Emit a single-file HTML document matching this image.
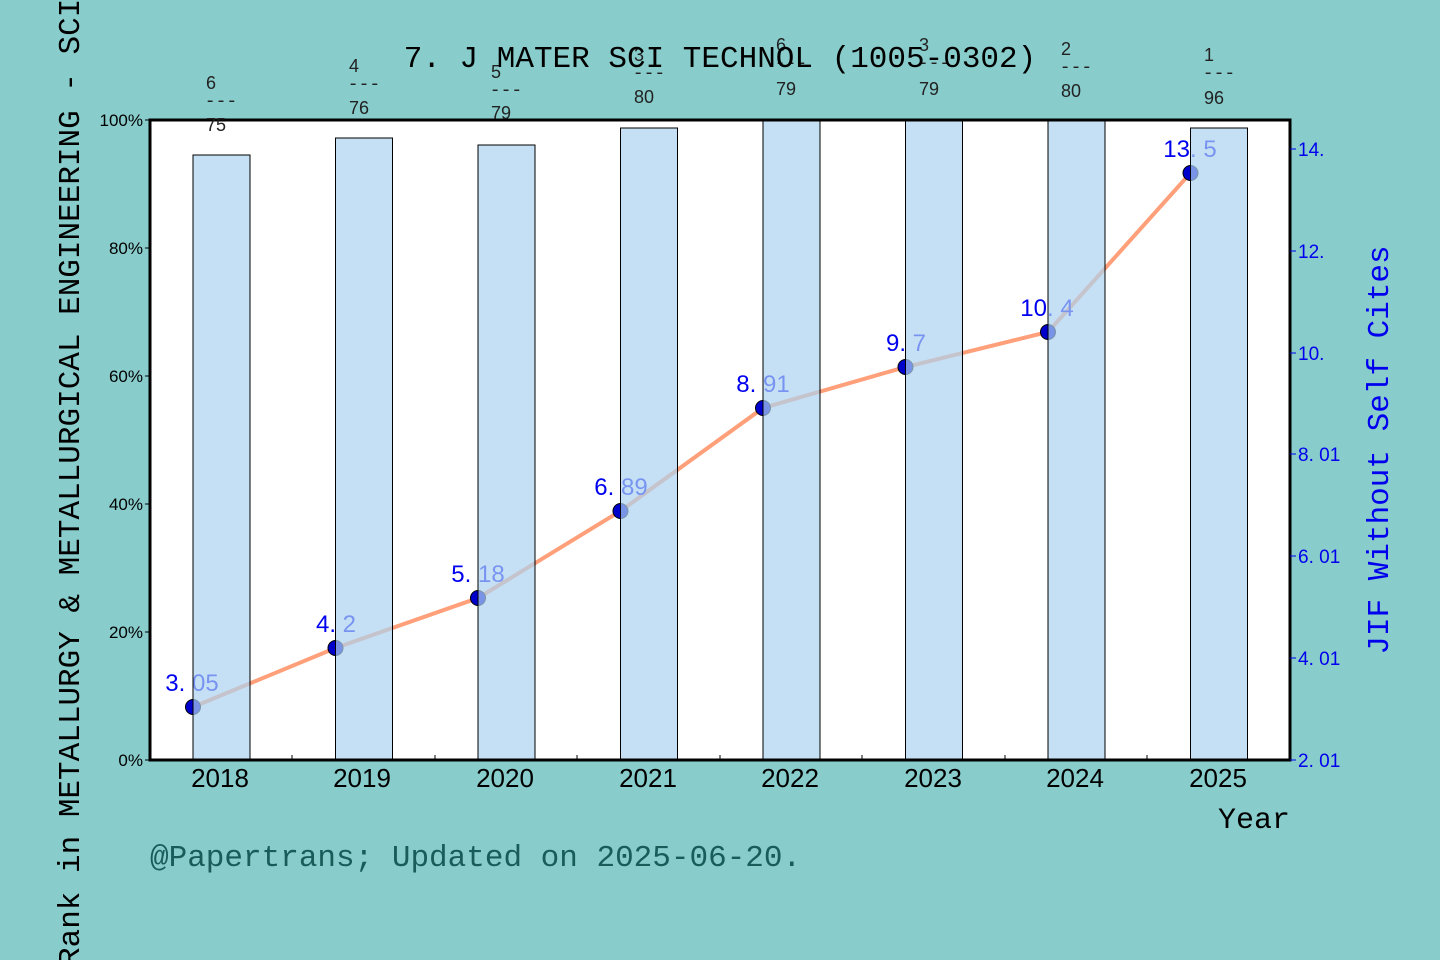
<!DOCTYPE html>
<html><head><meta charset="utf-8"><style>
html,body{margin:0;padding:0;background:#88cccb;}
svg{display:block}
</style></head><body>
<svg width="1440" height="960" xmlns="http://www.w3.org/2000/svg">
<rect x="0" y="0" width="1440" height="960" fill="#88cccb"/>
<rect x="150" y="120" width="1140" height="640" fill="#fff"/>
<polyline fill="none" stroke="#ffa07a" stroke-width="4" points="193,707 335.5,648 478,598 620.5,511 763,408 905.5,367 1048,332 1190.5,173"/>
<g fill="#0000cc" stroke="#000" stroke-width="1">
<circle cx="193" cy="707" r="7.5"/><circle cx="335.5" cy="648" r="7.5"/><circle cx="478" cy="598" r="7.5"/><circle cx="620.5" cy="511" r="7.5"/><circle cx="763" cy="408" r="7.5"/><circle cx="905.5" cy="367" r="7.5"/><circle cx="1048" cy="332" r="7.5"/><circle cx="1190.5" cy="173" r="7.5"/>
</g>
<g font-family="Liberation Sans, sans-serif" font-size="24" fill="#0000ee" text-anchor="middle">
<text x="192" y="691">3. 05</text>
<text x="336" y="632">4. 2</text>
<text x="478" y="582">5. 18</text>
<text x="621" y="495">6. 89</text>
<text x="763" y="392">8. 91</text>
<text x="906" y="351">9. 7</text>
<text x="1047" y="316">10. 4</text>
<text x="1190" y="157">13. 5</text>
</g>
<g fill="rgb(172,211,241)" fill-opacity="0.7" stroke="#000" stroke-width="1">
<rect x="193" y="155" width="57" height="605"/>
<rect x="335.5" y="138" width="57" height="622"/>
<rect x="478" y="145" width="57" height="615"/>
<rect x="620.5" y="128" width="57" height="632"/>
<rect x="763" y="120" width="57" height="640"/>
<rect x="905.5" y="120" width="57" height="640"/>
<rect x="1048" y="121" width="57" height="639"/>
<rect x="1190.5" y="128" width="57" height="632"/>
</g>
<rect x="150" y="120" width="1140" height="640" fill="none" stroke="#000" stroke-width="3"/>
<g stroke="#000" stroke-width="1">
<line x1="292" y1="760" x2="292" y2="755"/><line x1="435" y1="760" x2="435" y2="755"/><line x1="577" y1="760" x2="577" y2="755"/><line x1="720" y1="760" x2="720" y2="755"/><line x1="862" y1="760" x2="862" y2="755"/><line x1="1005" y1="760" x2="1005" y2="755"/><line x1="1147" y1="760" x2="1147" y2="755"/>
<line x1="145" y1="120" x2="150" y2="120"/><line x1="145" y1="248" x2="150" y2="248"/><line x1="145" y1="376" x2="150" y2="376"/><line x1="145" y1="504" x2="150" y2="504"/><line x1="145" y1="632" x2="150" y2="632"/><line x1="145" y1="760" x2="150" y2="760"/>
</g>
<g stroke="#0000ee" stroke-width="1">
<line x1="1290" y1="149" x2="1296" y2="149"/><line x1="1290" y1="251" x2="1296" y2="251"/><line x1="1290" y1="353" x2="1296" y2="353"/><line x1="1290" y1="454" x2="1296" y2="454"/><line x1="1290" y1="556" x2="1296" y2="556"/><line x1="1290" y1="658" x2="1296" y2="658"/><line x1="1290" y1="760" x2="1296" y2="760"/>
</g>
<g font-family="Liberation Sans, sans-serif" font-size="26" fill="#000" text-anchor="middle">
<text x="220" y="787">2018</text><text x="362" y="787">2019</text><text x="505" y="787">2020</text><text x="648" y="787">2021</text><text x="790" y="787">2022</text><text x="933" y="787">2023</text><text x="1075" y="787">2024</text><text x="1218" y="787">2025</text>
</g>
<g font-family="Liberation Sans, sans-serif" font-size="17" fill="#000" text-anchor="end">
<text x="143" y="126">100%</text><text x="143" y="254">80%</text><text x="143" y="382">60%</text><text x="143" y="510">40%</text><text x="143" y="638">20%</text><text x="143" y="766">0%</text>
</g>
<g font-family="Liberation Sans, sans-serif" font-size="19" fill="#0000ee">
<text x="1298" y="156">14.</text><text x="1298" y="258">12.</text><text x="1298" y="360">10.</text><text x="1298" y="461">8. 01</text><text x="1298" y="563">6. 01</text><text x="1298" y="665">4. 01</text><text x="1298" y="767">2. 01</text>
</g>
<g font-family="Liberation Sans, sans-serif" font-size="18" fill="#222" text-anchor="middle">
<text x="211" y="89">6</text><text x="216" y="131">75</text>
<text x="354" y="72">4</text><text x="359" y="114">76</text>
<text x="496" y="78">5</text><text x="501" y="119">79</text>
<text x="639" y="61">3</text><text x="644" y="103">80</text>
<text x="781" y="51">6</text><text x="786" y="95">79</text>
<text x="924" y="51">3</text><text x="929" y="95">79</text>
<text x="1066" y="55">2</text><text x="1071" y="97">80</text>
<text x="1209" y="61">1</text><text x="1214" y="104">96</text>
</g>
<g font-family="Liberation Mono, monospace" font-size="18" fill="#222" text-anchor="middle">
<text x="221" y="106">---</text><text x="364" y="89">---</text><text x="506" y="95">---</text><text x="649" y="78">---</text><text x="791" y="68">---</text><text x="934" y="68">---</text><text x="1076" y="72">---</text><text x="1219" y="78">---</text>
</g>
<text x="720" y="67" font-family="Liberation Mono, monospace" font-size="31" fill="#000" text-anchor="middle">7. J MATER SCI TECHNOL (1005-0302)</text>
<text x="1218" y="828" font-family="Liberation Mono, monospace" font-size="30" fill="#000">Year</text>
<text x="150" y="866" font-family="Liberation Mono, monospace" font-size="31" fill="#1a5c5a">@Papertrans; Updated on 2025-06-20.</text>
<text transform="translate(1388,450) rotate(-90)" font-family="Liberation Mono, monospace" font-size="31" fill="#0000ee" text-anchor="middle">JIF Without Self Cites</text>
<text transform="translate(79,966) rotate(-90)" font-family="Liberation Mono, monospace" font-size="31" fill="#000">Rank in METALLURGY &amp; METALLURGICAL ENGINEERING - SCIE</text>
</svg>
</body></html>
